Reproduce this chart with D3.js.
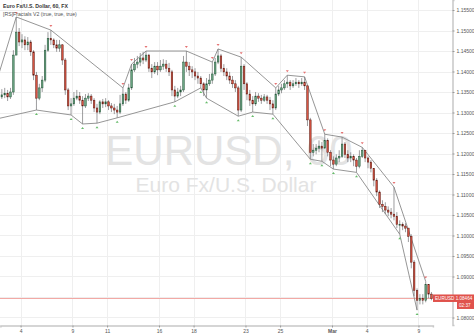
<!DOCTYPE html>
<html>
<head>
<meta charset="utf-8">
<script src="https://cdnjs.cloudflare.com/ajax/libs/d3/7.8.5/d3.min.js"></script>
<style>
  html, body { margin: 0; padding: 0; background: #fff; }
  svg { display: block; font-family: "Liberation Sans", Arial, sans-serif; }
</style>
</head>
<body>
<svg id="chart" width="474" height="334"></svg>
<script>
// EURUSD, 4h candles (open = previous close)
const firstOpen = 1.1338;
const closes = [
  1.1343, 1.1347, 1.1338, 1.1350, 1.1440, 1.1496, 1.1472, 1.1477, 1.1465, 1.1472,
  1.1448, 1.1391, 1.1335, 1.1360, 1.1379, 1.1452, 1.1481, 1.1477, 1.1465, 1.1457,
  1.1465, 1.1428, 1.1355, 1.1316, 1.1321, 1.1335, 1.1340, 1.1330, 1.1316, 1.1335,
  1.1340, 1.1330, 1.1311, 1.1301, 1.1326, 1.1321, 1.1326, 1.1316, 1.1311, 1.1306,
  1.1301, 1.1321, 1.1345, 1.1330, 1.1360, 1.1404, 1.1418, 1.1423, 1.1433, 1.1428,
  1.1440, 1.1408, 1.1399, 1.1413, 1.1404, 1.1413, 1.1418, 1.1408, 1.1399, 1.1355,
  1.1340, 1.1350, 1.1355, 1.1423, 1.1413, 1.1404, 1.1399, 1.1389, 1.1384, 1.1370,
  1.1355, 1.1370, 1.1379, 1.1394, 1.1423, 1.1438, 1.1408, 1.1399, 1.1389, 1.1379,
  1.1370, 1.1360, 1.1306, 1.1413, 1.1370, 1.1345, 1.1330, 1.1321, 1.1340, 1.1335,
  1.1330, 1.1338, 1.1330, 1.1321, 1.1311, 1.1345, 1.1355, 1.1360, 1.1370, 1.1374,
  1.1365, 1.1370, 1.1374, 1.1370, 1.1374, 1.1365, 1.1282, 1.1203, 1.1208, 1.1213,
  1.1218, 1.1213, 1.1232, 1.1203, 1.1184, 1.1174, 1.1189, 1.1193, 1.1223, 1.1198,
  1.1189, 1.1193, 1.1184, 1.1169, 1.1193, 1.1208, 1.1189, 1.1179, 1.1164, 1.1135,
  1.1106, 1.1076, 1.1071, 1.1062, 1.1057, 1.1052, 1.1047, 1.1027, 1.1027, 1.1023,
  1.1018, 1.0998, 1.0935, 1.0866, 1.0842, 1.0847, 1.0842, 1.0881, 1.0857, 1.08464
];
const highs = [
  1.1357, 1.1360, 1.1355, 1.1360, 1.1452, 1.1533, 1.1506, 1.1491, 1.1486, 1.1484,
  1.1477, 1.1452, 1.1399, 1.1370, 1.1389, 1.1465, 1.1496, 1.1501, 1.1481, 1.1477,
  1.1477, 1.1467, 1.1433, 1.1360, 1.1335, 1.1350, 1.1355, 1.1350, 1.1340, 1.1345,
  1.1347, 1.1345, 1.1335, 1.1321, 1.1330, 1.1333, 1.1335, 1.1330, 1.1323, 1.1321,
  1.1316, 1.1343, 1.1360, 1.1350, 1.1370, 1.1418, 1.1433, 1.1438, 1.1445, 1.1448,
  1.1450, 1.1443, 1.1418, 1.1423, 1.1423, 1.1428, 1.1430, 1.1428, 1.1421, 1.1404,
  1.1365, 1.1360, 1.1365, 1.1438, 1.1450, 1.1423, 1.1413, 1.1408, 1.1399, 1.1389,
  1.1374, 1.1384, 1.1394, 1.1423, 1.1433, 1.1455, 1.1443, 1.1418, 1.1408, 1.1399,
  1.1389, 1.1379, 1.1365, 1.1435, 1.1418, 1.1374, 1.1355, 1.1340, 1.1350, 1.1347,
  1.1343, 1.1345, 1.1343, 1.1338, 1.1330, 1.1360, 1.1365, 1.1370, 1.1379, 1.1391,
  1.1379, 1.1379, 1.1384, 1.1379, 1.1384, 1.1387, 1.1365, 1.1287, 1.1223, 1.1223,
  1.1232, 1.1228, 1.1247, 1.1237, 1.1208, 1.1193, 1.1198, 1.1208, 1.1240, 1.1228,
  1.1208, 1.1203, 1.1198, 1.1189, 1.1208, 1.1215, 1.1208, 1.1193, 1.1184, 1.1159,
  1.1140, 1.1110, 1.1086, 1.1081, 1.1071, 1.1067, 1.1118, 1.1057, 1.1037, 1.1032,
  1.1030, 1.1013, 1.1003, 1.0940, 1.0871, 1.0857, 1.0857, 1.0888, 1.0876, 1.0862
];
const lows = [
  1.1333, 1.1335, 1.1328, 1.1333, 1.1343, 1.1452, 1.1462, 1.1457, 1.1452, 1.1452,
  1.1438, 1.1379, 1.1306, 1.1330, 1.1350, 1.1374, 1.1448, 1.1465, 1.1457, 1.1448,
  1.1448, 1.1416, 1.1343, 1.1306, 1.1294, 1.1316, 1.1330, 1.1321, 1.1272, 1.1311,
  1.1328, 1.1321, 1.1301, 1.1274, 1.1296, 1.1311, 1.1313, 1.1306, 1.1301, 1.1296,
  1.1287, 1.1296, 1.1316, 1.1321, 1.1326, 1.1355, 1.1399, 1.1408, 1.1413, 1.1418,
  1.1423, 1.1399, 1.1384, 1.1394, 1.1391, 1.1399, 1.1404, 1.1399, 1.1389, 1.1340,
  1.1326, 1.1335, 1.1340, 1.1350, 1.1399, 1.1389, 1.1384, 1.1379, 1.1370, 1.1360,
  1.1340, 1.1335, 1.1365, 1.1370, 1.1389, 1.1418, 1.1399, 1.1389, 1.1379, 1.1370,
  1.1360, 1.1350, 1.1291, 1.1301, 1.1355, 1.1330, 1.1316, 1.1301, 1.1316, 1.1326,
  1.1321, 1.1326, 1.1321, 1.1306, 1.1296, 1.1306, 1.1340, 1.1347, 1.1355, 1.1360,
  1.1355, 1.1360, 1.1365, 1.1360, 1.1365, 1.1355, 1.1267, 1.1186, 1.1193, 1.1198,
  1.1203, 1.1181, 1.1213, 1.1193, 1.1169, 1.1162, 1.1169, 1.1179, 1.1189, 1.1189,
  1.1179, 1.1179, 1.1169, 1.1154, 1.1164, 1.1189, 1.1179, 1.1164, 1.1154, 1.1120,
  1.1096, 1.1067, 1.1057, 1.1052, 1.1047, 1.1042, 1.1037, 1.1018, 1.1003, 1.1013,
  1.1008, 1.0984, 1.0920, 1.0852, 1.0818, 1.0832, 1.0832, 1.0837, 1.0847, 1.0842
];

// [RS]Fractals V2 points (bar index, price)
const fracHighIdx = [-2, 5, 17, 42, 45, 50, 64, 73, 75, 83, 95, 99, 105, 112, 118, 125, 136, 147];
const fracHighVal = [1.1372, 1.1533, 1.1501, 1.1360, 1.1418, 1.1450, 1.1450, 1.1423, 1.1455, 1.1435,
  1.1360, 1.1391, 1.1387, 1.1247, 1.1240, 1.1215, 1.1118, 1.0888];
const fracLowIdx = [-2, 12, 24, 28, 33, 40, 60, 69, 71, 82, 87, 94, 107, 111, 115, 123, 138, 144];
const fracLowVal = [1.1284, 1.1306, 1.1294, 1.1272, 1.1274, 1.1287, 1.1326, 1.1360, 1.1335, 1.1291,
  1.1301, 1.1296, 1.1186, 1.1181, 1.1162, 1.1154, 1.1003, 1.0818];

const priceTicks = [1.080, 1.085, 1.090, 1.095, 1.100, 1.105, 1.110, 1.115, 1.120,
  1.125, 1.130, 1.135, 1.140, 1.145, 1.150, 1.155];
const dateIdx = [7, 25, 37, 55, 67, 85, 97, 115, 127, 145];
const dateLabels = ["4", "9", "11", "16", "18", "23", "25", "Mar", "4", "9"];
const lastPrice = 1.08464;

const W = 474, H = 334;
const plotW = 452, plotH = 325;

const svg = d3.select("#chart");

const x = d3.scaleLinear().domain([0, 150]).range([0.4, 432.9]);
const y = d3.scaleLinear().domain([1.07817, 1.15744]).range([plotH, 0]);
const step = x(1) - x(0);
const py = y(lastPrice);

svg.append("defs").append("clipPath").attr("id", "plot")
  .append("rect").attr("width", plotW).attr("height", plotH);

/** Grid
------------------------------------------------------------*/
const grid = svg.append("g").attr("stroke", "#efefef").attr("stroke-width", 1);
grid.selectAll("line.h").data(priceTicks).enter().append("line")
  .attr("x1", 0).attr("x2", plotW)
  .attr("y1", d => Math.round(y(d)) + 0.5).attr("y2", d => Math.round(y(d)) + 0.5);
grid.selectAll("line.v").data(dateIdx).enter().append("line")
  .attr("y1", 0).attr("y2", plotH)
  .attr("x1", d => Math.round(x(d)) + 0.5).attr("x2", d => Math.round(x(d)) + 0.5);

/** Watermark
------------------------------------------------------------*/
svg.append("text").attr("x", 229).attr("y", 165)
  .attr("text-anchor", "middle").attr("font-size", 42).attr("fill", "#e3e3e3")
  .text("EURUSD, 60");
svg.append("text").attr("x", 226).attr("y", 192)
  .attr("text-anchor", "middle").attr("font-size", 21).attr("fill", "#e3e3e3")
  .text("Euro Fx/U.S. Dollar");

const plot = svg.append("g").attr("clip-path", "url(#plot)");

// last price line
plot.append("line")
  .attr("x1", 0).attr("x2", plotW)
  .attr("y1", py).attr("y2", py)
  .attr("stroke", "#f2a7a3").attr("stroke-width", 1);

/** Fractal envelopes
------------------------------------------------------------*/
const fracLine = d3.line().x(d => x(d[0] + 0.5)).y(d => y(d[1]));
const highPts = fracHighIdx.map((d, i) => [d, fracHighVal[i]]);
const lowPts = fracLowIdx.map((d, i) => [d, fracLowVal[i]]);

plot.append("path").datum(highPts).attr("d", fracLine)
  .attr("fill", "none").attr("stroke", "#8a8a8a").attr("stroke-width", 0.9);
plot.append("path").datum(lowPts).attr("d", fracLine)
  .attr("fill", "none").attr("stroke", "#8a8a8a").attr("stroke-width", 0.9);

/** Candles
------------------------------------------------------------*/
const bars = closes.map((c, i) => ({
  i: i,
  o: i === 0 ? firstOpen : closes[i - 1],
  h: highs[i], l: lows[i], c: c
}));

const bw = step * 0.55;
const candles = plot.append("g").selectAll("g").data(bars).enter().append("g");

candles.append("line")
  .attr("x1", d => x(d.i + 0.5)).attr("x2", d => x(d.i + 0.5))
  .attr("y1", d => y(d.h)).attr("y2", d => y(d.l))
  .attr("stroke", "#737375").attr("stroke-width", 0.7);

candles.append("rect")
  .attr("x", d => x(d.i + 0.5) - bw / 2)
  .attr("width", bw)
  .attr("y", d => y(Math.max(d.o, d.c)))
  .attr("height", d => Math.max(0.8, Math.abs(y(d.o) - y(d.c))))
  .attr("fill", d => d.c >= d.o ? "#6ba583" : "#d75442")
  .attr("stroke", d => d.c >= d.o ? "#225437" : "#5b1a13")
  .attr("stroke-width", 0.5);

// fractal marks
plot.append("g").selectAll("path").data(highPts.filter(d => d[0] >= 0)).enter().append("path")
  .attr("d", d => {
    const cx = x(d[0] + 0.5), cy = y(d[1]) - 3;
    return `M${cx - 1.5},${cy - 2}L${cx + 1.5},${cy - 2}L${cx},${cy}Z`;
  })
  .attr("fill", "#e57373");
plot.append("g").selectAll("path").data(lowPts.filter(d => d[0] >= 0)).enter().append("path")
  .attr("d", d => {
    const cx = x(d[0] + 0.5), cy = y(d[1]) + 3;
    return `M${cx - 1.5},${cy + 2}L${cx + 1.5},${cy + 2}L${cx},${cy}Z`;
  })
  .attr("fill", "#66bb6a");

/** Axes
------------------------------------------------------------*/
// the tick hidden under the last-price label gets no text
const yAxis = svg.append("g")
  .attr("transform", `translate(${plotW + 0.5},0)`)
  .call(d3.axisRight(y).tickValues(priceTicks)
    .tickFormat(d => Math.abs(y(d) - py) < 6 ? "" : d3.format(".5f")(d))
    .tickSize(2).tickPadding(2));
yAxis.select(".domain").attr("stroke", "#c8c8c8").attr("stroke-width", 1.5);
yAxis.selectAll(".tick line").attr("stroke", "#999");
yAxis.selectAll(".tick text").attr("font-size", 5).attr("fill", "#555")
  .attr("font-family", "'Liberation Sans', Arial, sans-serif");

const xAxis = svg.append("g")
  .attr("transform", `translate(0,${plotH + 0.5})`)
  .call(d3.axisBottom(x).tickValues(dateIdx).tickFormat((d, i) => dateLabels[i]).tickSize(2).tickPadding(1.5));
xAxis.select(".domain").attr("stroke", "#c8c8c8").attr("stroke-width", 1.5);
xAxis.selectAll(".tick line").attr("stroke", "#999");
xAxis.selectAll(".tick text").attr("font-size", 5).attr("fill", "#555")
  .attr("font-family", "'Liberation Sans', Arial, sans-serif")
  .attr("font-weight", (d, i) => dateLabels[i] === "Mar" ? "bold" : "normal");

/** Price label
------------------------------------------------------------*/
svg.append("rect").attr("x", 433).attr("y", py - 4).attr("width", W - 433).attr("height", 7.5)
  .attr("fill", "#e0524c");
svg.append("text").attr("x", 435).attr("y", py + 1.8)
  .attr("font-size", 4.6).attr("fill", "#fff")
  .text("EURUSD 1.08464");
svg.append("rect").attr("x", 457).attr("y", py + 3.5).attr("width", W - 457).attr("height", 7)
  .attr("fill", "#e0524c");
svg.append("text").attr("x", 459).attr("y", py + 8.8)
  .attr("font-size", 4.6).attr("fill", "#fff")
  .text("02:37");

/** Title
------------------------------------------------------------*/
svg.append("text").attr("x", 3).attr("y", 8)
  .attr("font-size", 5.2).attr("font-weight", "bold").attr("fill", "#333")
  .text("Euro Fx/U.S. Dollar, 60, FX");
svg.append("text").attr("x", 3).attr("y", 16)
  .attr("font-size", 5.2).attr("fill", "#555")
  .text("[RS]Fractals V2 (true, true, true)");
</script>
</body>
</html>
